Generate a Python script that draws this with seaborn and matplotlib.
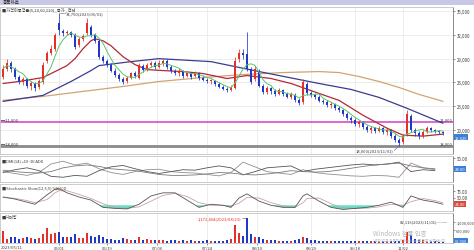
import numpy as np
import pandas as pd
import matplotlib
matplotlib.use("Agg")
import matplotlib.pyplot as plt
from matplotlib.patches import Rectangle
import seaborn as sns

# ---------------- data (daily candles) ----------------
opens = [26750, 27750, 28500, 27750, 26750, 26000, 26500, 25500, 25875, 25375,
         26000, 28750, 29750, 30250, 33500, 32500, 32250, 32375, 32000, 30750,
         31500, 32250, 33000, 32000, 31250, 29250, 28750, 28250, 27500, 27000,
         26500, 26125, 26625, 27250, 26625, 28125, 27750, 28250, 28500, 28000,
         28500, 28750, 28000, 27500, 27250, 27500, 26875, 27250, 26875, 27250,
         26625, 26375, 26125, 26250, 25750, 25375, 25125, 25000, 25250, 29000,
         29750, 29625, 27750, 26500, 27500, 25500, 24750, 25250, 24875, 24500,
         25000, 24500, 24125, 24375, 23750, 23500, 25750, 24625, 24375, 24125,
         23625, 23500, 23125, 23250, 22750, 22500, 22000, 21500, 21250, 20750,
         21000, 20375, 20000, 20250, 19875, 20250, 19750, 20000, 19250, 18750,
         18500, 19500, 21750, 20000, 19625, 19250, 19750, 20250, 20000, 19875, 19750]
closes = [27750, 28500, 27750, 26750, 26000, 26500, 25500, 25875, 25250, 26250,
          28250, 29750, 30250, 32000, 32625, 32250, 32375, 32000, 30500, 31500,
          31875, 33500, 32000, 31250, 29250, 28750, 28250, 27500, 27000, 26500,
          26000, 26625, 27250, 26875, 28250, 27625, 28250, 28500, 28000, 28500,
          28750, 28000, 27500, 27250, 27500, 26875, 27250, 26750, 27250, 26625,
          26375, 26125, 26250, 25750, 25375, 25125, 25000, 25375, 28750, 29750,
          29500, 27750, 26000, 27750, 25500, 24750, 25250, 24875, 24500, 25000,
          24500, 24125, 24500, 23750, 23375, 26000, 24625, 24375, 24125, 23625,
          23500, 23125, 23250, 22750, 22500, 22000, 21500, 21250, 20750, 21000,
          20375, 20000, 20250, 19875, 20250, 19750, 20000, 19250, 18750, 18375,
          19250, 22000, 20000, 19625, 19250, 19750, 20250, 20000, 19875, 19750, 19625]
highs = [28250, 29000, 28750, 28000, 27000, 26750, 26625, 26125, 26000, 26500,
         28625, 30000, 30750, 32250, 34750, 32750, 32625, 32500, 32250, 31750,
         32125, 34125, 33250, 32250, 31500, 29500, 29000, 28500, 27875, 27250,
         26750, 26875, 27375, 27500, 28500, 28375, 28500, 28750, 28750, 28875,
         29000, 29000, 28250, 27750, 27875, 27625, 27500, 27375, 27500, 27375,
         26875, 26625, 26500, 26375, 26000, 25625, 25375, 25625, 29250, 30250,
         30250, 32375, 28000, 28125, 27750, 25750, 25500, 25375, 25125, 25250,
         25125, 24750, 24750, 24625, 24000, 26500, 26000, 24875, 24625, 24375,
         23875, 23750, 23500, 23375, 23000, 22625, 22250, 21750, 21500, 21250,
         21125, 20625, 20500, 20375, 20500, 20375, 20250, 20125, 19500, 19000,
         19500, 22500, 22000, 20250, 19875, 20000, 20500, 20375, 20125, 20000, 19875]
lows = [26500, 27500, 27375, 26500, 25750, 25625, 25250, 25000, 24875, 25125,
        25750, 28500, 29500, 30000, 32000, 31875, 32000, 31750, 30250, 30500,
        31250, 32000, 31750, 31000, 29000, 28500, 28000, 27375, 26750, 26250,
        25750, 25875, 26500, 26625, 26500, 27375, 27500, 28000, 27750, 27875,
        28125, 27750, 27250, 27000, 26875, 26625, 26750, 26500, 26750, 26375,
        26125, 25875, 25750, 25500, 25250, 25000, 24750, 24875, 25125, 28625,
        29000, 27500, 25750, 26250, 25375, 24500, 24500, 24500, 24250, 24375,
        24250, 24000, 23875, 23500, 23125, 23250, 24375, 24125, 23875, 23500,
        23250, 22875, 22750, 22500, 22250, 21750, 21250, 20875, 20500, 20375,
        20125, 19750, 19625, 19625, 19750, 19500, 19375, 19000, 18500, 18000,
        18250, 19250, 19750, 19250, 18875, 19000, 19625, 19750, 19625, 19500, 19375]
volumes = [560000, 200000, 280000, 260000, 180000, 220000, 300000, 240000, 200000, 250000,
           400000, 700000, 420000, 480000, 520000, 300000, 260000, 280000, 420000, 250000,
           220000, 450000, 350000, 300000, 380000, 280000, 200000, 180000, 150000, 160000,
           220000, 180000, 160000, 140000, 260000, 150000, 170000, 120000, 130000, 120000,
           140000, 110000, 150000, 120000, 100000, 130000, 110000, 120000, 100000, 90000,
           110000, 120000, 100000, 90000, 110000, 100000, 120000, 180000, 820000, 470000,
           330000, 1172404, 420000, 280000, 300000, 180000, 150000, 140000, 120000, 110000,
           100000, 110000, 90000, 120000, 200000, 280000, 220000, 150000, 120000, 100000,
           90000, 110000, 90000, 100000, 80000, 90000, 100000, 80000, 90000, 110000,
           80000, 90000, 100000, 85000, 90000, 95000, 80000, 100000, 110000, 82116,
           150000, 520000, 380000, 180000, 140000, 120000, 110000, 90000, 80000, 70000, 60000]

# longer moving averages at sample candles
ma20_idx = [0, 4, 10, 16, 18, 20, 22, 23, 25, 27, 30, 33, 36, 40, 45, 50, 56, 61, 67, 72, 79, 84, 90, 96, 100, 105, 110]
ma20_val = [25875, 26125, 26625, 28125, 29000, 30250, 31250, 31500, 31250, 30625, 29250, 28250, 27625,
            27500, 27375, 27125, 26500, 26875, 26500, 25875, 24625, 23750, 21875, 20250, 19375, 19250, 19500]
ma60_idx = [0, 10, 17, 22, 24, 32, 39, 52, 64, 79, 87, 94, 101, 110]
ma60_val = [23625, 24375, 26125, 27500, 28125, 28625, 29000, 28625, 27375, 25875, 25125, 24125, 22750, 20875]
ma120_idx = [0, 10, 20, 30, 39, 50, 60, 70, 79, 84, 89, 94, 99, 104, 110]
ma120_val = [23750, 24250, 24875, 25500, 26125, 26625, 27000, 27250, 27375, 27250, 26750, 26125, 25375, 24500, 23625]

# DMI (sampled every 3 candles)
dmi_idx = list(range(0, 111, 3))
plus_di = [22, 18, 14, 20, 38, 44, 36, 40, 28, 20, 16, 22, 26, 27, 22, 20, 19, 16, 13,
           20, 42, 32, 22, 19, 16, 26, 20, 17, 15, 13, 12, 14, 13, 10, 40, 30, 26]
minus_di = [20, 26, 30, 24, 12, 10, 14, 12, 24, 32, 35, 28, 22, 18, 22, 26, 25, 30, 34,
            30, 15, 22, 30, 32, 34, 22, 27, 30, 33, 36, 38, 36, 38, 42, 22, 26, 24]
adx = [25, 22, 20, 19, 22, 30, 34, 36, 33, 28, 26, 24, 20, 16, 14, 14, 15, 17, 20,
       19, 16, 15, 17, 20, 24, 22, 21, 22, 25, 29, 33, 36, 38, 40, 34, 30, 28]

# Stochastic slow
sto_idx = [0, 3, 6, 8, 11, 13, 14, 16, 19, 22, 25, 28, 31, 34, 37, 40, 43, 46, 49, 52, 55,
           57, 59, 61, 64, 67, 70, 73, 75, 76, 79, 82, 85, 88, 91, 94, 97, 100, 102, 105, 108, 110]
sto_k = [52, 44, 32, 24, 60, 82, 84, 68, 52, 40, 12, 8, 6, 24, 56, 68, 68, 40, 12, 24, 20,
         12, 48, 64, 36, 20, 12, 12, 56, 64, 36, 12, 4, 8, 12, 20, 32, 12, 56, 40, 32, 24]
sto_d = [50, 47, 38, 30, 42, 68, 76, 76, 62, 46, 26, 12, 8, 14, 36, 58, 66, 54, 30, 20, 20,
         16, 28, 50, 48, 30, 18, 12, 30, 46, 48, 26, 10, 8, 9, 14, 24, 20, 34, 46, 38, 30]

price_ticks = [20000, 23000, 26000, 29000, 32000, 35000]
date_pos = [14, 26, 38.5, 51, 63.5, 77, 88, 100]
date_labels = ["06/01", "06/19", "07/06", "07/24", "08/10", "08/29", "09/18", "11/02"]
support_line = 21000
low_line = 18000

# ---------------- styling ----------------
sns.set_theme(style="white")
plt.rcParams['font.family'] = ['Noto Sans CJK KR', 'DejaVu Sans']
plt.rcParams['axes.unicode_minus'] = False

RED = '#e2302a'
BLUE = '#2038c8'
GRID = '#e6e6e6'
TXT = '#3a3a3a'
W, H = 474, 251

df = pd.DataFrame({'idx': np.arange(len(closes)), 'open': opens, 'high': highs,
                   'low': lows, 'close': closes, 'volume': volumes})
df['ma5'] = df['close'].rolling(5, min_periods=1).mean()
up = (df['close'] >= df['open']).to_numpy()
colors = np.where(up, RED, BLUE)

fig = plt.figure(figsize=(W / 100, H / 100), dpi=100)
fig.patch.set_facecolor('white')


def rect(x, y, w, h):
    return [x / W, 1 - (y + h) / H, w / W, h / H]


# title bar
fig.patches.append(Rectangle((0, 1 - 6 / H), 1, 6 / H, transform=fig.transFigure,
                             facecolor='#c9c7e6', edgecolor='none', zorder=0))
fig.text(3 / W, 1 - 3 / H, "종목차트", fontsize=3.3, color='#222', va='center', ha='left')

ax_p = fig.add_axes(rect(0, 8, 453, 147))
ax_d = fig.add_axes(rect(0, 157, 453, 26), sharex=ax_p)
ax_s = fig.add_axes(rect(0, 185, 453, 27), sharex=ax_p)
ax_v = fig.add_axes(rect(0, 214, 453, 30), sharex=ax_p)
axes = [ax_p, ax_d, ax_s, ax_v]

for ax in axes:
    ax.set_facecolor('white')
    for s in ax.spines.values():
        s.set_color('#c4c4c4')
        s.set_linewidth(0.6)
    ax.spines['right'].set_color('#777777')
    ax.yaxis.tick_right()
    ax.tick_params(axis='y', labelsize=3.2, length=1.5, width=0.4, pad=1, colors=TXT)
    ax.tick_params(axis='x', bottom=False, labelbottom=False)
    for g in date_pos:
        ax.axvline(g, color=GRID, lw=0.5, zorder=0)
ax_p.set_xlim(-0.75, 112.5)

# ---------------- price panel ----------------
for t in price_ticks:
    ax_p.axhline(t, color=GRID, lw=0.5, zorder=0)
ax_p.vlines(df['idx'], df['low'], df['high'], colors=colors, linewidth=0.55, zorder=3)
body = (df['close'] - df['open']).abs().clip(lower=70)
ax_p.bar(df['idx'], body, bottom=np.minimum(df['open'], df['close']), width=0.72,
         color=colors, linewidth=0, zorder=4)

sns.lineplot(x=ma120_idx, y=ma120_val, ax=ax_p, color='#d4a373', linewidth=0.9, zorder=2)
sns.lineplot(x=ma60_idx, y=ma60_val, ax=ax_p, color='#3b3b8f', linewidth=0.9, zorder=2)
sns.lineplot(x=ma20_idx, y=ma20_val, ax=ax_p, color='#b02a35', linewidth=0.9, zorder=2)
sns.lineplot(x=df['idx'].to_numpy(), y=df['ma5'].to_numpy(), ax=ax_p, color='#5cc46a',
             linewidth=0.7, zorder=5)

ax_p.axhline(support_line, color='#d23ec6', lw=1.1, zorder=1)
ax_p.axhline(low_line, color='#8a8a8a', lw=2.0, zorder=1)
ax_p.set_ylim(17000, 35500)
ax_p.set_yticks(price_ticks)
ax_p.set_yticklabels([f"{t:,}" for t in price_ticks])

ax_p.text(0.003, support_line + 150, f"─{support_line:,}", fontsize=3.0, color=TXT,
          va='bottom', ha='left', transform=ax_p.get_yaxis_transform())
ax_p.text(112.3, support_line + 150, f"{support_line:,}", fontsize=3.0, color=TXT, va='bottom', ha='right')
ax_p.text(0.003, low_line + 150, f"─{low_line:,}", fontsize=3.0, color=TXT,
          va='bottom', ha='left', transform=ax_p.get_yaxis_transform())
ax_p.text(112.3, low_line + 150, f"{low_line:,}", fontsize=3.0, color=TXT, va='bottom', ha='right')

hi = int(np.argmax(highs))
ax_p.plot([hi + 0.3, hi + 1.6], [highs[hi], highs[hi]], color='#666', lw=0.4)
ax_p.text(hi + 1.7, highs[hi], f"{highs[hi]:,}(2023/06/01)", fontsize=3.0, color=TXT, va='center', ha='left')
lo = int(np.argmin(lows))
ax_p.plot([lo - 1.2, lo], [17450, lows[lo]], color='#666', lw=0.4)
ax_p.text(lo - 1.3, 17450, f"{lows[lo]:,}(2023/11/01)", fontsize=3.0, color=TXT, va='center', ha='right')

fig.text(2 / W, 1 - 9.5 / H, "■가격이동평균(5,20,60,120)_종가 _전체", fontsize=3.0, color=TXT, va='center')

# current price box (placed just under the 20,000 label)
ax_p.text(1.004, 19150, f"{closes[-1]:,}", transform=ax_p.get_yaxis_transform(),
          fontsize=3.0, color='white', va='center', ha='left',
          bbox=dict(boxstyle='square,pad=0.25', facecolor='#3d7fd6', edgecolor='none'))

# ---------------- DMI panel ----------------
sns.lineplot(x=dmi_idx, y=plus_di, ax=ax_d, color='#9b8a93', linewidth=0.6)
sns.lineplot(x=dmi_idx, y=minus_di, ax=ax_d, color='#555555', linewidth=0.6)
sns.lineplot(x=dmi_idx, y=adx, ax=ax_d, color='#7a7a7a', linewidth=0.6)
ax_d.set_ylim(0, 55)
ax_d.set_yticks([50])
ax_d.set_yticklabels(["50.00"])
ax_d.text(0.004, 0.92, "■DMI(14) +DI -DI ADX", transform=ax_d.transAxes, fontsize=3.0,
          color=TXT, va='top', ha='left')
ax_d.text(1.004, adx[-1], f"{adx[-1]:.2f}", transform=ax_d.get_yaxis_transform(),
          fontsize=3.0, color='white', va='center', ha='left',
          bbox=dict(boxstyle='square,pad=0.25', facecolor='#3d7fd6', edgecolor='none'))

# ---------------- Stochastic panel ----------------
k = np.array(sto_k, dtype=float)
ax_s.fill_between(sto_idx, k, 20, where=k <= 20, interpolate=True, color='#62e0c6', linewidth=0, zorder=1)
ax_s.fill_between(sto_idx, k, 80, where=k >= 80, interpolate=True, color='#f3a13e', linewidth=0, zorder=1)
sns.lineplot(x=sto_idx, y=sto_d, ax=ax_s, color='#c9a3a3', linewidth=0.6)
sns.lineplot(x=sto_idx, y=sto_k, ax=ax_s, color='#555555', linewidth=0.6)
ax_s.set_ylim(-2, 102)
ax_s.set_yticks([75, 50])
ax_s.set_yticklabels(["75.00", "50.00"])
ax_s.text(0.004, 0.94, "■Stochastic Slow(12,5,5) %K %D", transform=ax_s.transAxes, fontsize=3.0,
          color=TXT, va='top', ha='left')
ax_s.text(1.004, sto_k[-1], f"{sto_k[-1]:.2f}", transform=ax_s.get_yaxis_transform(),
          fontsize=3.0, color='white', va='center', ha='left',
          bbox=dict(boxstyle='square,pad=0.25', facecolor='#d84a3a', edgecolor='none'))

# ---------------- Volume panel ----------------
ax_v.bar(df['idx'], df['volume'], width=0.72, color=colors, linewidth=0, zorder=3)
ax_v.set_ylim(0, 1400000)
ax_v.set_yticks([1000000, 600000])
ax_v.set_yticklabels(["1,000,000", "600,000"])
ax_v.tick_params(axis='y', labelsize=2.8, pad=0.8)
ax_v.text(0.004, 0.95, "■거래량", transform=ax_v.transAxes, fontsize=3.0, color=TXT, va='top', ha='left')
vmax = int(np.argmax(volumes))
ax_v.plot([vmax - 1.2, vmax], [volumes[vmax], volumes[vmax]], color='#666', lw=0.4)
ax_v.text(vmax - 1.3, volumes[vmax], f"{volumes[vmax]:,}(2023/08/23)", fontsize=3.0, color=RED,
          va='center', ha='right')
ax_v.text(99.3, 1000000, f"{volumes[99]:,}(2023/11/01)", fontsize=3.0, color=TXT, va='center', ha='left')
ax_v.plot([108.6, 111], [1000000, 1000000], color='#666', lw=0.4, ls=(0, (1, 1)))
ax_v.text(1.004, 0.02, f"{volumes[-1]:,}", transform=ax_v.transAxes,
          fontsize=2.8, color='white', va='bottom', ha='left',
          bbox=dict(boxstyle='square,pad=0.2', facecolor='#3d7fd6', edgecolor='none'))
ax_v.tick_params(axis='x', bottom=True, labelbottom=True, labelsize=3.0, length=1.2, width=0.4,
                 pad=0.4, colors=TXT)
ax_v.set_xticks(date_pos)
ax_v.set_xticklabels(date_labels)
ax_v.text(0.002, -0.04, "2023/05/11", transform=ax_v.transAxes, fontsize=3.0, color=TXT, va='top', ha='left')

# seaborn adds axis titles from named series; the chart has none
for ax in axes:
    ax.set_xlabel("")
    ax.set_ylabel("")

# activation watermark that sits over the screenshot
fig.text(373 / W, 1 - 234 / H, "Windows 정품 인증", fontsize=4.6, color='#b8b8b8', va='center', ha='left')
fig.text(373 / W, 1 - 240.5 / H, "[설정]으로 이동하여 Windows를 정품 인증합니다.", fontsize=2.55,
         color='#b8b8b8', va='center', ha='left')

fig.savefig("out.png", dpi=100, facecolor='white')
